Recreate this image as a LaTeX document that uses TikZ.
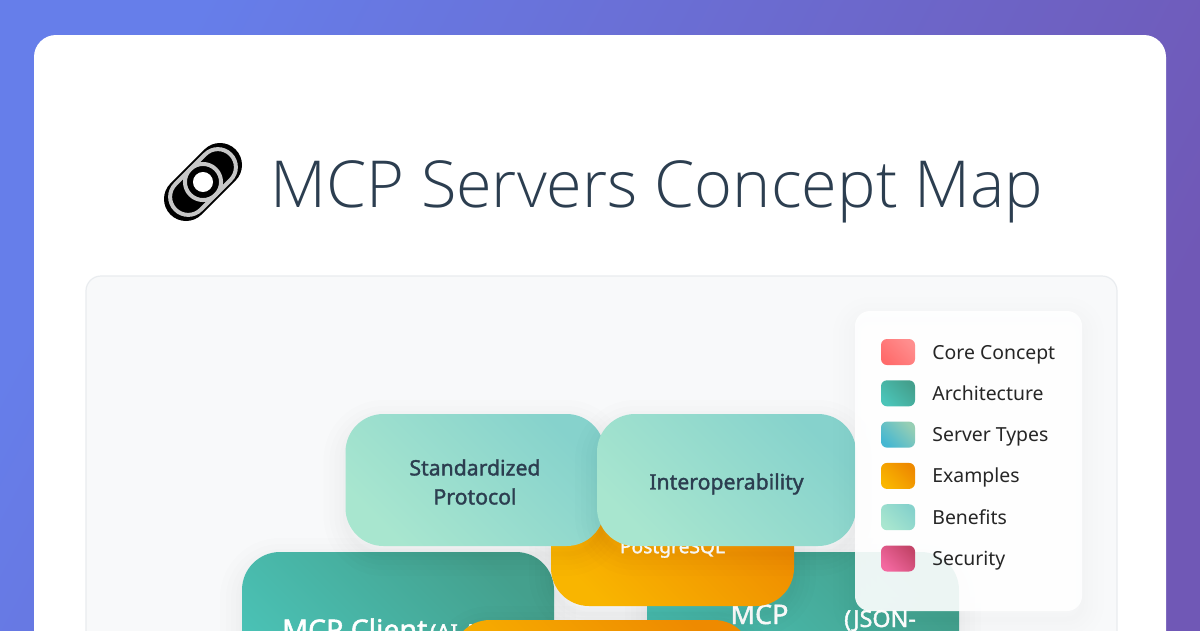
\documentclass[tikz,border=0pt]{standalone}
\usepackage{xcolor}
\usepackage{fontspec}
\setmainfont{Noto Sans}
\newfontfamily\titlefont{Open Sans Light}
\newfontfamily\boldfont[FakeBold=1.6]{Noto Sans}
\usetikzlibrary{positioning}

\definecolor{pageA}{HTML}{667EEA}
\definecolor{pageB}{HTML}{7058B6}
\definecolor{inkdark}{HTML}{2C3E50}
\definecolor{panelfill}{HTML}{F8F9FA}
\definecolor{panelline}{HTML}{E9ECEF}
\definecolor{coreA}{HTML}{FF6B6B}
\definecolor{coreB}{HTML}{FF8E8E}
\definecolor{archA}{HTML}{4BC4B8}
\definecolor{archB}{HTML}{44A08D}
\definecolor{typeA}{HTML}{45B7D1}
\definecolor{typeB}{HTML}{96CEB4}
\definecolor{exampleA}{HTML}{F9B500}
\definecolor{exampleB}{HTML}{EE8A00}
\definecolor{benefitA}{HTML}{A8E6CF}
\definecolor{benefitB}{HTML}{86D2CC}
\definecolor{securityA}{HTML}{F368A0}
\definecolor{securityB}{HTML}{C44569}

\tikzset{
	softshadow/.style={
		preaction={draw=black,opacity=#1,line width=44pt,transform canvas={yshift=-8pt}},
		preaction={draw=black,opacity=#1,line width=32pt,transform canvas={yshift=-8pt}},
		preaction={draw=black,opacity=#1,line width=22pt,transform canvas={yshift=-8pt}},
		preaction={draw=black,opacity=#1,line width=12pt,transform canvas={yshift=-8pt}},
		preaction={draw=black,opacity=#1,line width=5pt,transform canvas={yshift=-8pt}}},
	conceptnode/.style={softshadow=0.009,rectangle,rounded corners=38pt,inner sep=0pt,align=center,shading angle=-45},
	archnode/.style={conceptnode,bottom color=archA,top color=archB,shading angle=-45,minimum width=312pt,minimum height=170pt},
	examplenode/.style={conceptnode,bottom color=exampleA,top color=exampleB,shading angle=-45,text=white},
	benefitnode/.style={conceptnode,bottom color=benefitA,top color=benefitB,shading angle=-45,minimum width=259pt,minimum height=132pt,text=inkdark,font=\boldfont\fontsize{21.2}{29}\selectfont},
	swatch/.style={rectangle,rounded corners=6pt,minimum width=34pt,minimum height=26pt,inner sep=0pt},
	legendtext/.style={right=17pt of #1,inner sep=0pt,text height=18pt,text depth=4pt,text=black!85,font=\fontsize{19.4}{24}\selectfont},
}

\begin{document}
\begin{tikzpicture}[x=1pt,y=-1pt]
	\useasboundingbox (0,0) rectangle (1200,630);
	\clip (0,0) rectangle (1200,630);

	% Page, card and panel:
	\shade[top color=pageA,bottom color=pageB,shading angle=62] (0,0) rectangle (1200,630);
	\fill[white,rounded corners=22pt] (34,35) rectangle (1166,760);
	\draw[draw=panelline,fill=panelfill,line width=1.2pt,rounded corners=15pt] (86,276) rectangle (1117,760);

	% Title with the link icon:
	\draw[black,line width=44pt,line cap=round] (186,199) -- (220,165);
	\begin{scope}[shift={(203,182)},rotate=45]
		\draw[black!22,line width=4pt,rounded corners=17.9pt] (-18,-18) rectangle (39,18);
		\draw[black!22,line width=4pt,rounded corners=17.9pt] (-39,-18) rectangle (18,18);
		\fill[white] (0,0) circle (10);
	\end{scope}
	\node[inner sep=0pt,anchor=base west,text=inkdark,font=\titlefont\fontsize{64.8}{70}\selectfont] (title) at (270,207) {MCP Servers Concept Map};

	% Nodes, back to front:
	\node[archnode] (client) at (398,637) {};
	\node[anchor=base west,inner sep=0pt,text=white,font=\boldfont\fontsize{28.5}{30}\selectfont] (clientname) at (282,640) {MCP Client};
	\node[right=2pt of clientname.base east,anchor=base west,inner sep=0pt,text=white,font=\boldfont\fontsize{22}{30}\selectfont] (clientnote) {(AI A};

	\node[archnode] (server) at (803,637) {};
	\node[anchor=base,inner sep=0pt,text=white,font=\boldfont\fontsize{27}{30}\selectfont] (servername) at (759.5,624) {MCP};
	\node[anchor=base,inner sep=0pt,text=white,font=\boldfont\fontsize{23.3}{30}\selectfont] (servernote) at (880,627) {(JSON-};

	\node[examplenode,minimum width=243pt,minimum height=120pt,font=\boldfont\fontsize{19.2}{24}\selectfont] (postgres) at (672.5,546) {\rule{0pt}{19pt}PostgreSQL};
	\node[examplenode,minimum width=300pt,minimum height=120pt] (nextexample) at (602,680) {};

	\node[benefitnode] (standardized) at (475,480) {\rule{0pt}{20pt}Standardized\\Protocol};
	\node[benefitnode] (interop) at (726.5,480) {\rule{0pt}{24pt}Interoperability};

	% Legend:
	\node[softshadow=0.005,fill=white,fill opacity=0.9,rounded corners=15pt,minimum width=227pt,minimum height=300pt,inner sep=0pt] (legend) at (968.5,461) {};
	\foreach \key/\ca/\cb/\lab [count=\n] in {core/coreA/coreB/Core Concept,arch/archA/archB/Architecture,type/typeA/typeB/Server Types,example/exampleA/exampleB/Examples,benefit/benefitA/benefitB/Benefits,security/securityA/securityB/Security}
	{
		\node[swatch,bottom color=\ca,top color=\cb,shading angle=-45] (swatch\key) at (898,352+41.3*\n-41.3) {};
		\node[legendtext=swatch\key] (label\key) {\lab};
	}
\end{tikzpicture}
\end{document}
